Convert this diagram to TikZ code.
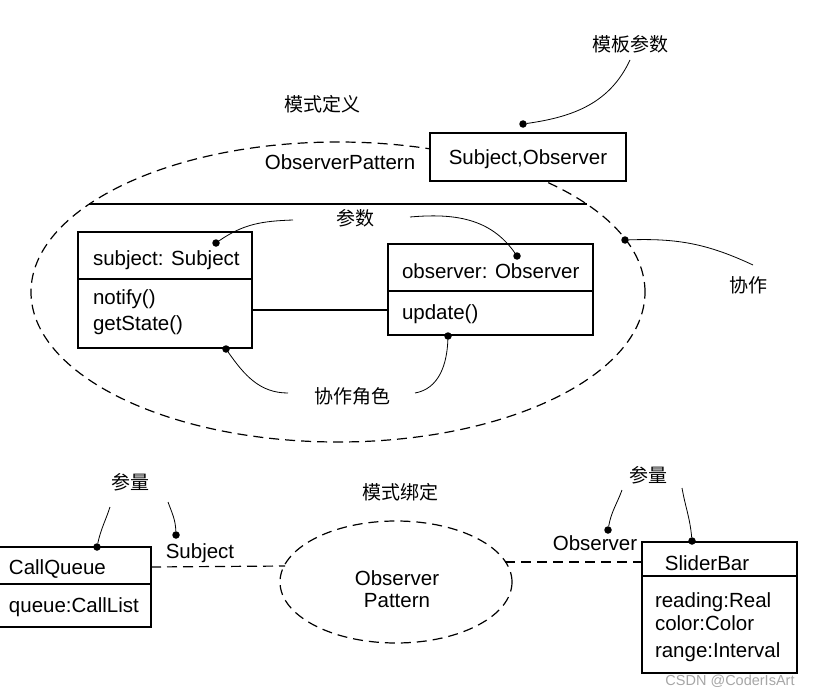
\documentclass[tikz,border=0pt]{standalone}
\usepackage{fontspec}
\setmainfont{Liberation Sans}
\newfontfamily\cjk{Noto Sans CJK SC}
\usetikzlibrary{shapes.geometric}
\begin{document}
\begin{tikzpicture}[x=1pt,y=-1pt,
  every node/.style={font=\fontsize{20.5}{22}\selectfont, inner sep=0pt, outer sep=0pt},
  lbl/.style={anchor=base},
  lblw/.style={anchor=base west},
  cjklab/.style={anchor=base, font=\cjk\fontsize{19}{22}\selectfont},
  umlbox/.style={draw, line width=1.1pt, fill=white, inner sep=0pt, outer sep=0pt},
  boxline/.style={line width=1.1pt},
  dashline/.style={line width=1.2pt, dash pattern=on 10pt off 6pt},
  lead/.style={line width=0.8pt},
  pin/.style={circle, fill=black, minimum size=7.5pt, inner sep=0pt},
  wmark/.style={anchor=base, font=\fontsize{14.5}{16}\selectfont, text=black!35}
]
\useasboundingbox (0,0) rectangle (813,690);

% ---- pattern definition ----
\node[ellipse, draw, dashline, minimum width=614pt, minimum height=300pt] (pat) at (338,292) {};
\coordinate (chl) at (89,204);
\coordinate (chr) at (587,204);
\draw[line width=1.4pt] (chl) -- (chr);

\node[umlbox, minimum width=196pt, minimum height=48pt] (so) at (528,157) {};
\node[lbl] (sotxt) at (528,164) {Subject,Observer};

\node[cjklab] (tparam) at (630,52) {模板参数};
\node[cjklab] (defl) at (322,112) {模式定义};
\node[lbl] (opname) at (340,169) {ObserverPattern};
\node[cjklab] (prm) at (355,225) {参数};
\node[cjklab] (roles) at (352,403) {协作角色};
\node[cjklab] (collab) at (748,292) {协作};

% subject box
\node[umlbox, minimum width=174pt, minimum height=116pt] (sb) at (165,290) {};
\draw[boxline] (sb.west |- 0,279) -- (sb.east |- 0,279);
\node[lblw] (sbt) at (93,265) {subject: Subject};
\node[lblw] (sbm1) at (93,304) {notify()};
\node[lblw] (sbm2) at (93,330) {getState()};

% observer box
\node[umlbox, minimum width=205pt, minimum height=91pt] (ob) at (490.5,289.5) {};
\draw[boxline] (ob.west |- 0,291) -- (ob.east |- 0,291);
\node[lblw] (obt) at (402,278) {observer: Observer};
\node[lblw] (obm1) at (402,319) {update()};

\draw[boxline] (sb.east |- 0,310) -- (ob.west |- 0,310);

% pins and leaders (top)
\coordinate (c1) at (293,220);
\coordinate (c2) at (410,217);
\coordinate (c3) at (288,393);
\coordinate (c4) at (415,393);
\coordinate (c5) at (753,265);
\coordinate (c6) at (630,60);
\node[pin] (p1) at (523,124) {};
\node[pin] (ps) at (216,243) {};
\node[pin] (po) at (517,256) {};
\node[pin] (pr1) at (226,349) {};
\node[pin] (pr2) at (448,336) {};
\node[pin] (pc) at (625,240) {};

\draw[lead] (c6) to[out=-115, in=8] (p1);
\draw[lead] (c1) to[out=182, in=35] (ps);
\draw[lead] (c2) to[out=5, in=125] (po);
\draw[lead] (pr1) to[out=-55, in=180] (c3);
\draw[lead] (pr2) to[out=-92, in=10] (c4);
\draw[lead] (pc) to[out=2, in=155] (c5);

% ---- binding ----
\node[cjklab] (bindl) at (400,499) {模式绑定};
\node[ellipse, draw, dashline, minimum width=232pt, minimum height=122pt] (bind) at (396,582) {};
\node[lbl] (bindtxt) at (397,585) {Observer};
\node[lbl] (bindtxt2) at (397,607) {Pattern};
\coordinate (bl) at (285,566);
\coordinate (br) at (505,562);

% CallQueue box (left edge cut off)
\draw[boxline] (0,547) -- (151,547) -- (151,627) -- (0,627);
\draw[boxline] (0,584) -- (151,584);
\coordinate (cqe) at (151,567);
\node[lblw] (cq) at (9,574) {CallQueue};
\node[lblw] (cql) at (9,612) {queue:CallList};

\node[cjklab] (q1) at (130,489) {参量};
\node[lbl] (subjl) at (200,558) {Subject};
\coordinate (d1) at (110,507);
\coordinate (d2) at (168,502);
\node[pin] (pq1) at (97,547) {};
\node[pin] (pq2) at (176,535) {};
\draw[lead] (d1) to[out=-108, in=78] (pq1);
\draw[lead] (d2) to[out=-70, in=92] (pq2);

% SliderBar box
\node[umlbox, minimum width=155pt, minimum height=131pt] (slb) at (719.5,607.5) {};
\draw[boxline] (slb.west |- 0,576) -- (slb.east |- 0,576);
\node[lbl] (slt) at (707,570) {SliderBar};
\node[lblw] (sla1) at (655,607) {reading:Real};
\node[lblw] (sla2) at (655,630) {color:Color};
\node[lblw] (sla3) at (655,657) {range:Interval};

\node[cjklab] (q2) at (648,482) {参量};
\node[lbl] (obsl) at (595,550) {Observer};
\coordinate (d3) at (622,490);
\coordinate (d4) at (682,488);
\node[pin] (pq3) at (608,530) {};
\node[pin] (pq4) at (692,541) {};
\draw[lead] (d3) to[out=-110, in=80] (pq3);
\draw[lead] (d4) to[out=-80, in=95] (pq4);

\draw[dashline] (cqe) -- (bl);
\draw[dashline] (br) -- (slb.west |- br);

\node[wmark] (wm) at (730,685) {CSDN @CoderIsArt};
\end{tikzpicture}
\end{document}
